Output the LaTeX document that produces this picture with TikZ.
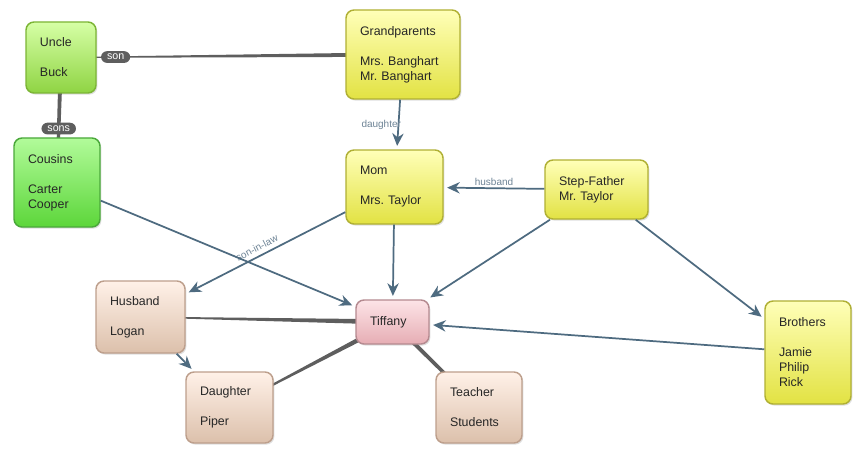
\documentclass[tikz,border=0pt]{standalone}
\usepackage{fontspec}
\setmainfont{Liberation Sans}
\usetikzlibrary{calc,arrows.meta,shadows,backgrounds}

\newcommand{\FamilyMapPx}{0.75pt}
\definecolor{relblue}{HTML}{4E6B80}
\definecolor{rellabel}{HTML}{6E8496}
\definecolor{linkgray}{HTML}{5E5E5E}
\definecolor{uncletop}{HTML}{D6FFA6}
\definecolor{unclebot}{HTML}{8FD443}
\definecolor{uncleline}{HTML}{7CB535}
\definecolor{cousintop}{HTML}{B2FB9A}
\definecolor{cousinbot}{HTML}{5CD63A}
\definecolor{cousinline}{HTML}{4AA83A}
\definecolor{yellowtop}{HTML}{FFFFB8}
\definecolor{yellowbot}{HTML}{E2E243}
\definecolor{yellowline}{HTML}{B0B034}
\definecolor{peachtop}{HTML}{FFF1E8}
\definecolor{peachbot}{HTML}{DCC0AB}
\definecolor{peachline}{HTML}{BD9F8C}
\definecolor{pinktop}{HTML}{FDE4E7}
\definecolor{pinkbot}{HTML}{E6ADB4}
\definecolor{pinkline}{HTML}{B58A90}

\tikzset{
	person/.style args={#1x#2}{rounded corners=6pt, draw, line width=1.1pt,
		minimum height=#2*\FamilyMapPx, text width=#1*\FamilyMapPx-21pt,
		inner xsep=10.5pt, inner ysep=0pt, align=left,
		font=\fontsize{9.3}{11.25}\selectfont\frenchspacing, text=black!85,
		drop shadow={opacity=0.25, shadow xshift=1pt, shadow yshift=-1.2pt}},
	uncleclr/.style={top color=uncletop, bottom color=unclebot, draw=uncleline},
	cousinclr/.style={top color=cousintop, bottom color=cousinbot, draw=cousinline},
	yellowclr/.style={top color=yellowtop, bottom color=yellowbot, draw=yellowline},
	peachclr/.style={top color=peachtop, bottom color=peachbot, draw=peachline},
	pinkclr/.style={top color=pinktop, bottom color=pinkbot, draw=pinkline},
	rel/.style={draw=relblue, line width=1.3pt, -{Stealth[length=9.5pt, width=8.5pt]}, shorten >=2.5pt},
	relname/.style={text=rellabel, font=\fontsize{7.5}{9}\selectfont, inner sep=1.5pt},
	pill/.style={fill=linkgray, rounded corners=4.5pt, text=white, font=\fontsize{8}{9}\selectfont,
		inner xsep=4.5pt, inner ysep=2.2pt},
}

% tapered grey link: from, to, half width at from, half width at to
\newcommand{\FamilyTaper}[4]{%
	\fill[linkgray] ($(#1)!#3!90:(#2)$) -- ($(#2)!#4!-90:(#1)$) -- ($(#2)!#4!90:(#1)$) -- ($(#1)!#3!-90:(#2)$) -- cycle;}

\begin{document}
\begin{tikzpicture}[x=\FamilyMapPx, y=-\FamilyMapPx]
	\useasboundingbox (0,0) rectangle (861,453);

	\node[person=70x71, uncleclr] (uncle) at (61,57.5) {Uncle\\[11.25pt]Buck};
	\node[person=114x89, yellowclr] (grand) at (403,54.5) {Grandparents\\[11.25pt]Mrs. Banghart\\Mr. Banghart};
	\node[person=86x89, cousinclr] (cousins) at (57,182.5) {Cousins\\[11.25pt]Carter\\Cooper};
	\node[person=97x74, yellowclr] (mom) at (394.5,187) {Mom\\[11.25pt]Mrs. Taylor};
	\node[person=103x59, yellowclr] (step) at (596.5,189.5) {Step-Father\\Mr. Taylor};
	\node[person=86x103, yellowclr] (brothers) at (808,352.5) {Brothers\\[11.25pt]Jamie\\Philip\\Rick};
	\node[person=89x72, peachclr] (husband) at (140.5,317) {Husband\\[11.25pt]Logan};
	\node[person=73x44, pinkclr] (tiffany) at (392.5,322) {Tiffany};
	\node[person=87x71, peachclr] (daughter) at (229.5,407.5) {Daughter\\[11.25pt]Piper};
	\node[person=86x71, peachclr] (teacher) at (479,407.5) {Teacher\\[11.25pt]Students};

	% grey links behind the boxes
	\begin{scope}[on background layer]
		\fill[white] (0,0) rectangle (861,453);
		\FamilyTaper{uncle}{grand}{0.3pt}{1.7pt}
		\FamilyTaper{uncle}{cousins}{1.6pt}{1.1pt}
		\FamilyTaper{husband}{tiffany}{0.3pt}{2pt}
		\FamilyTaper{daughter}{tiffany}{0.4pt}{2pt}
		\FamilyTaper{teacher}{tiffany}{1.1pt}{1.6pt}
	\end{scope}
	\path (uncle) -- (grand) node[pill, pos=0.076] {son};
	\path (uncle) -- (cousins) node[pill, pos=0.8] {sons};

	\draw[rel] (grand) -- (mom) node[relname, pos=0.5, anchor=east, xshift=4pt] {daughter};
	\draw[rel] (step) -- (mom) node[relname, pos=0.5, above] {husband};
	\draw[rel] (mom) -- (husband) node[relname, pos=0.53, sloped, above, yshift=1.5pt] {son-in-law};
	\draw[rel] (cousins) -- (tiffany);
	\draw[rel] (mom) -- (tiffany);
	\draw[rel] (step) -- (tiffany);
	\draw[rel] (step) -- (brothers);
	\draw[rel] (brothers) -- (tiffany);
	\draw[rel] (husband) -- (daughter);
\end{tikzpicture}
\end{document}
